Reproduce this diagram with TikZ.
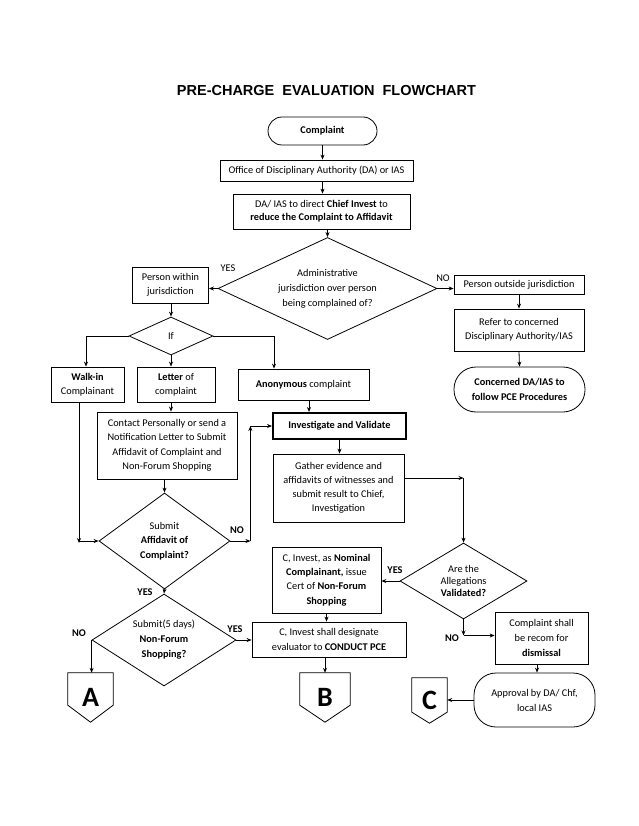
\documentclass[tikz,border=0pt]{standalone}
\usepackage{fontspec}
\setmainfont{Carlito}
\newfontfamily\titlefont{Liberation Sans}
\usetikzlibrary{shapes.geometric,arrows.meta}
\begin{document}
\begin{tikzpicture}[x=1pt,y=-1pt,
  every node/.style={font=\fontsize{10.3}{14.4}\selectfont, inner sep=0pt, align=center},
  box/.style={draw, line width=0.8pt, rectangle},
  dia/.style={draw, line width=0.8pt, diamond},
  arr/.style={-{Stealth[length=5pt,width=4pt]}, line width=0.8pt},
  ln/.style={line width=0.8pt},
  lbl/.style={font=\fontsize{10.3}{12}\selectfont},
  blbl/.style={font=\fontsize{10.3}{12}\selectfont\bfseries},
  big/.style={font=\fontsize{28}{28}\selectfont\bfseries}
]
\useasboundingbox[fill=white] (0,0) rectangle (638,826);

\node[font=\titlefont\bfseries\fontsize{14.5}{17}\selectfont] (title) at (326.5,91) {PRE-CHARGE\ \ EVALUATION\ \ FLOWCHART};

\node[box, rounded corners=14pt, minimum width=109pt, minimum height=28pt] (complaint) at (322.5,131) {\textbf{Complaint}};
\node[box, minimum width=193pt, minimum height=21pt] (office) at (316.5,170.5) {Office of Disciplinary Authority (DA) or IAS};
\node[box, minimum width=177pt, minimum height=35pt, font=\fontsize{10.3}{13.3}\selectfont] (direct) at (321.5,211.5) {DA/ IAS to direct \textbf{Chief Invest} to\\ \textbf{reduce the Complaint to Affidavit}};
\node[dia, aspect=2.15, minimum width=219pt, minimum height=102pt, font=\fontsize{10.3}{15}\selectfont] (admin) at (327.5,288.5) {Administrative\\jurisdiction over person\\being complained of?};

\node[box, minimum width=76pt, minimum height=36pt] (within) at (170.5,285) {Person within\\jurisdiction};
\node[dia, aspect=2.2, minimum width=84pt, minimum height=38pt] (if) at (171,336) {If};
\node[box, minimum width=73pt, minimum height=35pt] (walkin) at (87.5,384.5) {\textbf{Walk-in}\\Complainant};
\node[box, minimum width=78pt, minimum height=35pt] (letter) at (176,384.5) {\textbf{Letter} of\\complaint};
\node[box, minimum width=131pt, minimum height=31pt] (anon) at (303.5,384.5) {\textbf{Anonymous} complaint};

\node[box, minimum width=130pt, minimum height=19pt] (outside) at (519,284.5) {Person outside jurisdiction};
\node[box, minimum width=130pt, minimum height=42pt] (refer) at (519,330) {Refer to concerned\\Disciplinary Authority/IAS};
\node[box, rounded corners=22pt, minimum width=131pt, minimum height=45pt, font=\fontsize{10.3}{15}\selectfont] (concerned) at (519.5,389.5) {\textbf{Concerned DA/IAS to}\\\textbf{follow PCE Procedures}};

\node[box, minimum width=140pt, minimum height=67pt] (contact) at (167,445.5) {Contact Personally or send a\\Notification Letter to Submit\\Affidavit of Complaint and\\Non-Forum Shopping};
\node[box, line width=2pt, minimum width=133pt, minimum height=26pt] (inv) at (339.5,426) {\textbf{Investigate and Validate}};
\node[box, minimum width=131pt, minimum height=68pt, font=\fontsize{10.3}{14}\selectfont] (gather) at (338.5,488) {Gather evidence and\\affidavits of witnesses and\\submit result to Chief,\\Investigation};

\node[dia, aspect=1.36, minimum width=131pt, minimum height=96pt] (sub) at (164.5,541) {Submit\\\textbf{Affidavit of}\\\textbf{Complaint?}};
\node[dia, aspect=1.57, minimum width=144pt, minimum height=92pt, font=\fontsize{10.3}{15}\selectfont] (nss) at (164,640) {Submit(5 days)\\\textbf{Non-Forum}\\\textbf{Shopping?}};
\node[box, minimum width=109pt, minimum height=66pt] (nominal) at (326.5,580) {C, Invest, as \textbf{Nominal}\\\textbf{Complainant,} issue\\Cert of \textbf{Non-Forum}\\\textbf{Shopping}};
\node[dia, aspect=1.67, minimum width=127pt, minimum height=76pt, font=\fontsize{10.3}{12.3}\selectfont] (are) at (463.5,581) {Are the\\Allegations\\\textbf{Validated?}};
\node[box, minimum width=154pt, minimum height=35pt] (designate) at (329,639.5) {C, Invest shall designate\\evaluator to \textbf{CONDUCT PCE}};
\node[box, minimum width=93pt, minimum height=52pt, font=\fontsize{10.3}{15}\selectfont] (dismiss) at (541.5,638) {Complaint shall\\be recom for\\\textbf{dismissal}};
\node[box, rounded corners=22pt, minimum width=121pt, minimum height=54pt, font=\fontsize{10.3}{15}\selectfont] (approval) at (534.5,700) {Approval by DA/ Chf,\\local IAS};

\node[big, minimum width=45pt, minimum height=49pt] (A) at (90.5,697.5) {A};
\node[big, minimum width=50pt, minimum height=49pt] (B) at (325,697.5) {B};
\node[big, minimum width=35pt, minimum height=45pt] (C) at (429.5,700.5) {C};
\draw[ln] (A.north west) -- (A.north east) -- ([yshift=17pt]A.south east) -- (A.south) -- ([yshift=17pt]A.south west) -- cycle;
\draw[ln] (B.north west) -- (B.north east) -- ([yshift=17pt]B.south east) -- (B.south) -- ([yshift=17pt]B.south west) -- cycle;
\draw[ln] (C.north west) -- (C.north east) -- ([yshift=11pt]C.south east) -- (C.south) -- ([yshift=11pt]C.south west) -- cycle;

% connectors
\draw[arr] (complaint.south) -- (complaint.south |- office.north);
\draw[arr] (office.south -| complaint.south) -- (direct.north -| complaint.south);
\draw[arr] (direct.south -| admin.north) -- (admin.north);
\draw[arr] (admin.west) -- (admin.west -| within.east);
\draw[arr] (admin.east) -- (admin.east -| outside.west);
\draw[arr] (within.south -| if.north) -- (if.north);
\draw[arr] (if.west) -| ([xshift=-1.5pt]walkin.north);
\draw[arr] (if.south) -- (if.south |- letter.north);
\draw[arr] (if.east) -| ([xshift=-29.5pt]anon.north);
\draw[arr] (outside.south) -- (refer.north);
\draw[arr] (refer.south) -- (concerned.north);
\draw[arr] (letter.south -| if.south) -- (contact.north -| if.south);
\draw[arr] ([xshift=5.5pt]anon.south) -- ([xshift=5.5pt]anon.south |- inv.north);
\draw[arr] (inv.south) -- (inv.south |- gather.north);
\draw[arr] (contact.south -| sub.north) -- (sub.north);

\coordinate (wk) at ([xshift=-8.5pt]walkin.south |- sub.west);
\draw[arr] ([xshift=-8.5pt]walkin.south) -- ([yshift=-2pt]wk);
\draw[arr] (wk) -- (sub.west);

\coordinate (n1) at ([xshift=20pt]sub.east);
\coordinate (n2) at (n1 |- inv.west);
\draw[arr] (sub.east) -- (n1);
\draw[arr] (n1) -- (n2);
\draw[arr] (n2) -- (inv.west);

\coordinate (g0) at ([yshift=10pt]gather.east);
\coordinate (g1) at (are.north |- g0);
\draw[arr] (g0) -- (g1);
\draw[arr] (g1) -- (are.north);

\draw[arr] (sub.south) -- (nss.north);
\draw[arr] (nss.west) -- (nss.west |- A.north);
\draw[arr] (nss.east) -- (nss.east -| designate.west);
\draw[arr] (are.west) -- (are.west -| nominal.east);
\draw[arr] (nominal.south) -- (nominal.south |- designate.north);
\draw[arr] (designate.south -| B.north) -- (B.north);

\coordinate (a1) at ([yshift=2.5pt]are.south |- dismiss.west);
\draw[arr] (are.south) -- (a1);
\draw[arr] (a1) -- (a1 -| dismiss.west);
\draw[arr] ([xshift=-4.5pt]dismiss.south) -- ([xshift=-4.5pt]dismiss.south |- approval.north);
\draw[arr] (approval.west) -- (approval.west -| C.east);

% labels
\node[lbl] (yes1) at (228,268) {YES};
\node[lbl] (no1) at (443,278) {NO};
\node[blbl] (no2) at (237,530) {NO};
\node[blbl] (yes2) at (145,592) {YES};
\node[blbl] (no3) at (79,633) {NO};
\node[blbl] (yes3) at (235,629) {YES};
\node[blbl] (yes4) at (395,570) {YES};
\node[blbl] (no4) at (452,638) {NO};
\end{tikzpicture}
\end{document}
